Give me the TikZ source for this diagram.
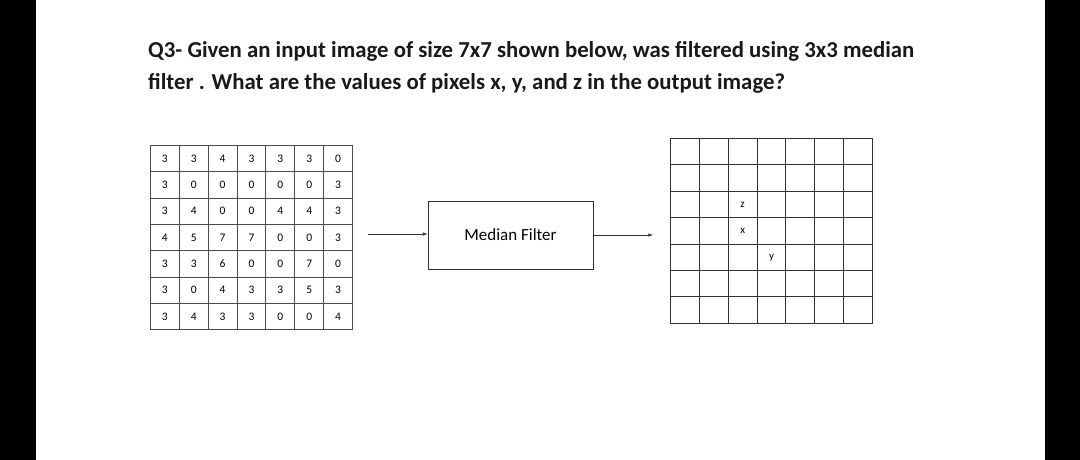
\documentclass[tikz,border=0pt]{standalone}
\usepackage{fontspec}
\setmainfont{Carlito}
\begin{document}
\begin{tikzpicture}[x=1pt,y=-1pt,
  cell/.style={draw=black!70,line width=0.9pt,minimum width=28.86pt,minimum height=26.3pt,inner sep=0pt,font=\fontsize{11.5}{13}\selectfont,anchor=north west},
  ocell/.style={draw=black!80,line width=1pt,minimum width=28.86pt,minimum height=26.4pt,inner sep=0pt,font=\fontsize{10}{12}\selectfont,anchor=north west},
  conn/.style={-latex,line width=0.6pt,black!80}]
\useasboundingbox (0,0) rectangle (1080,460);
\fill[black] (0,0) rectangle (36,460);
\fill[black] (1045,0) rectangle (1080,460);
\node[anchor=west,inner sep=0pt,font=\bfseries\fontsize{22.8}{26}\selectfont,text=black!90] (t1) at (148,51) {Q3- Given an input image of size 7x7 shown below, was filtered using 3x3 median};
\node[anchor=west,inner sep=0pt,font=\bfseries\fontsize{22.8}{26}\selectfont,text=black!90] (t2) at (148,83) {filter . What are the values of pixels x, y, and z in the output image?};
\foreach \row [count=\r from 0] in {{3,3,4,3,3,3,0},{3,0,0,0,0,0,3},{3,4,0,0,4,4,3},{4,5,7,7,0,0,3},{3,3,6,0,0,7,0},{3,0,4,3,3,5,3},{3,4,3,3,0,0,4}}{
  \foreach \v [count=\c from 0] in \row {
    \node[cell] (a-\r-\c) at (150+\c*28.86,145+\r*26.3) {\v};
  }
}
\foreach \r in {0,...,6}{\foreach \c in {0,...,6}{
  \node[ocell] (b-\r-\c) at (670+\c*28.86,138+\r*26.4) {};
}}
\node[font=\fontsize{11}{12}\selectfont] at (b-2-2) {z};
\node[font=\fontsize{11}{12}\selectfont] at (b-3-2) {x};
\node[font=\fontsize{11}{12}\selectfont] at (b-4-3) {y};
\node[draw=black!80,line width=0.9pt,minimum width=165pt,minimum height=68pt,font=\fontsize{17}{20}\selectfont] (mf) at (510.5,235) {Median Filter};
\coordinate (in) at (368,234);
\coordinate (out) at (653,235);
\draw[conn] (in) -- (mf.west|-in);
\draw[conn] (mf.east|-out) -- (out);
\end{tikzpicture}
\end{document}
